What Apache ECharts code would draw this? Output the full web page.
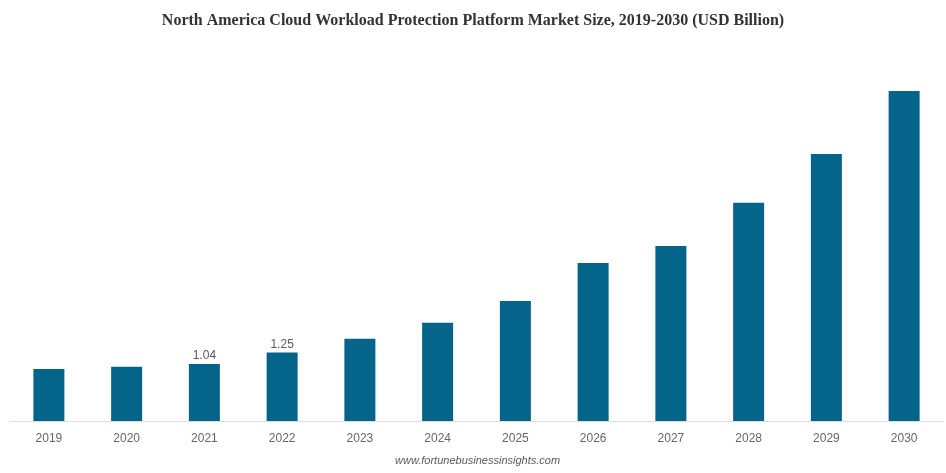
<!DOCTYPE html>
<html><head><meta charset="utf-8">
<script src="https://cdn.jsdelivr.net/npm/echarts@6/dist/echarts.min.js"></script>
<style>html,body{margin:0;padding:0;background:#fff}#c{width:946px;height:473px}</style>
</head><body><div id="c"></div>
<script>
const categories = ['2019','2020','2021','2022','2023','2024','2025','2026','2027','2028','2029','2030'];
const values = [0.95, 0.99, 1.04, 1.25, 1.50, 1.79, 2.19, 2.88, 3.19, 3.98, 4.87, 6.02];
const labeledYears = ['2021','2022'];
const titleText = 'North America Cloud Workload Protection Platform Market Size, 2019-2030 (USD Billion)';
const sourceText = 'www.fortunebusinessinsights.com';

const chart = echarts.init(document.getElementById('c'));
chart.setOption({
  animation: false,
  title: {
    text: titleText, left: 'center', top: 8,
    textStyle: {fontFamily: 'Liberation Serif, serif', fontWeight: 'bold', fontSize: 16, color: '#333'}
  },
  graphic: [{
    type: 'text', left: 395, top: 455,
    style: {text: sourceText, font: 'italic 11px "Liberation Sans", Arial, sans-serif', fill: '#5a5a5a'}
  }],
  grid: {left: 10, right: 3, top: 40, bottom: 52},
  xAxis: {
    type: 'category', data: categories,
    axisLine: {lineStyle: {color: '#ddd'}},
    axisTick: {show: false},
    axisLabel: {color: '#666', fontSize: 12, fontFamily: 'Liberation Sans, Arial, sans-serif', margin: 12}
  },
  yAxis: {type: 'value', min: 0, max: 6.95, show: false, splitLine: {show: false}},
  series: [{
    type: 'bar', barWidth: 31,
    itemStyle: {color: '#056489'},
    data: values.map((v, i) => ({
      value: v,
      label: {show: labeledYears.includes(categories[i]), position: 'top', distance: 2,
        color: '#595959', fontSize: 12, fontFamily: 'Liberation Sans, Arial, sans-serif',
        formatter: p => p.value.toFixed(2)}
    }))
  }]
});
</script></body></html>
